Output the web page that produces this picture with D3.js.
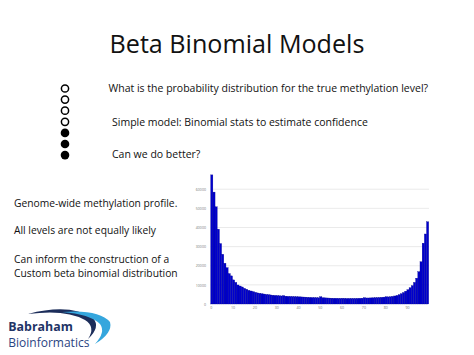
<!DOCTYPE html>
<html>
<head>
<meta charset="utf-8">
<script src="https://cdn.jsdelivr.net/npm/d3@7"></script>
<style>
  body { margin: 0; background: #fff; }
  svg { display: block; }
  text { font-family: "Open Sans", "Noto Sans", sans-serif; }
</style>
</head>
<body>
<div id="slide"></div>
<script>
var width = 474,
    height = 355;

// methylation % bins 0..99, counts per bin
var bins = d3.range(0, 100);
var counts = [
  67500, 58500, 50800, 39100, 31600, 26000, 21300, 19000, 15900, 14700,
  12600, 11300, 9950, 9400, 8900, 8200, 7700, 7150, 6800, 6450,
  6100, 5800, 5600, 5400, 5200, 5000, 4900, 4750, 4600, 4500,
  4400, 4300, 4200, 4400, 4100, 4000, 3950, 3900, 3850, 3800,
  3750, 3700, 3650, 3600, 3500, 3450, 3400, 3350, 3300, 3250,
  3800, 3300, 3200, 3150, 3100, 3050, 3000, 3000, 2950, 2950,
  3000, 2950, 2900, 2900, 2900, 2900, 2900, 2950, 3000, 3050,
  3300, 3150, 3150, 3200, 3250, 3300, 3350, 3400, 3500, 3600,
  3800, 3700, 3800, 4000, 4200, 4500, 4900, 5400, 6000, 6700,
  7500, 8500, 9600, 11300, 13500, 16900, 22100, 31800, 36600, 43000
];
var yTicks = [0, 10000, 20000, 30000, 40000, 50000, 60000];
var xTicks = [0, 10, 20, 30, 40, 50, 60, 70, 80, 90];

var title = "Beta Binomial Models";
var bulletLines = [
  "What is the probability distribution for the true methylation level?",
  "Simple model: Binomial stats to estimate confidence",
  "Can we do better?"
];
var sideLines = [
  "Genome-wide methylation profile.",
  "All levels are not equally likely",
  "Can inform the construction of a",
  "Custom beta binomial distribution"
];
var bulletFilled = [false, false, false, false, true, true, true];

var svg = d3.select("#slide")
  .append("svg")
  .attr("width", width)
  .attr("height", height);

// font size that makes a text hit a target width
function fitSize(sel, target) {
  sel.attr("font-size", 10);
  var w = sel.node().getComputedTextLength();
  return 10 * target / w;
}

// title
var t = svg.append("text")
  .attr("x", 237)
  .attr("y", 52.5)
  .attr("text-anchor", "middle")
  .attr("fill", "#111")
  .text(title);
t.attr("font-size", fitSize(t, 255));

// bullets
svg.append("g").selectAll("circle")
  .data(bulletFilled)
  .enter()
  .append("circle")
  .attr("cx", 65)
  .attr("cy", function(d, i) { return 88.5 + i * 11.1; })
  .attr("r", function(d) { return d ? 4.3 : 3.6; })
  .attr("fill", function(d) { return d ? "#000" : "#fff"; })
  .attr("stroke", "#000")
  .attr("stroke-width", function(d) { return d ? 0 : 1.5; });

var bulletPos = [[108.5, 92], [112, 125.5], [112, 158]];
var bt = svg.append("g").selectAll("text")
  .data(bulletLines)
  .enter()
  .append("text")
  .attr("x", function(d, i) { return bulletPos[i][0]; })
  .attr("y", function(d, i) { return bulletPos[i][1]; })
  .attr("fill", "#111")
  .text(function(d) { return d; });
bt.attr("font-size", fitSize(d3.select(bt.nodes()[0]), 320));

var sidePos = [207, 234, 263, 276.5];
var st = svg.append("g").selectAll("text")
  .data(sideLines)
  .enter()
  .append("text")
  .attr("x", 14)
  .attr("y", function(d, i) { return sidePos[i]; })
  .attr("fill", "#111")
  .text(function(d) { return d; });
st.attr("font-size", fitSize(d3.select(st.nodes()[3]), 164));

// histogram
var x = d3.scaleBand()
  .domain(bins)
  .range([210.7, 428.7])
  .padding(0);

var y = d3.scaleLinear()
  .domain([0, 70000])
  .range([304, 170.1]);

var chart = svg.append("g");

chart.selectAll("line.grid")
  .data(yTicks.slice(1))
  .enter()
  .append("line")
  .attr("class", "grid")
  .attr("x1", 210.7)
  .attr("x2", 429)
  .attr("y1", function(d) { return y(d); })
  .attr("y2", function(d) { return y(d); })
  .attr("stroke", "#dcdcdc")
  .attr("stroke-width", 0.6);

chart.selectAll("rect")
  .data(counts)
  .enter()
  .append("rect")
  .attr("x", function(d, i) { return x(bins[i]); })
  .attr("y", function(d) { return y(d); })
  .attr("width", x.bandwidth())
  .attr("height", function(d) { return y(0) - y(d); })
  .attr("fill", "#0000cc")
  .attr("stroke", "#00008c")
  .attr("stroke-width", 0.3);

var yAxis = chart.append("g")
  .attr("transform", "translate(206,0)")
  .call(d3.axisLeft(y).tickValues(yTicks).tickFormat(d3.format("d")).tickSize(0).tickPadding(0));
yAxis.select(".domain").remove();
yAxis.selectAll("text")
  .attr("font-size", 3.6)
  .attr("fill", "#777");

var xAxis = chart.append("g")
  .attr("transform", "translate(0,304.5)")
  .call(d3.axisBottom(x).tickValues(xTicks).tickSize(0).tickPadding(2));
xAxis.select(".domain").remove();
xAxis.selectAll(".tick").attr("transform", function(d) {
  return "translate(" + (x(d) + 0.6) + ",0)";
});
xAxis.selectAll("text")
  .attr("font-size", 3.6)
  .attr("fill", "#777");

// logo
var logo = svg.append("g");
logo.append("path")
  .attr("d", "M28,314 Q70,303 93,318 Q101,327 88,339 Q96,327 85,320 Q66,309 28,314 Z")
  .attr("fill", "#1c2d5a");
logo.append("path")
  .attr("d", "M62,312 Q99,309 110,322 Q113,333 95,344 Q106,332 100,324 Q90,314 62,312 Z")
  .attr("fill", "#35a6dd");
logo.append("text")
  .attr("x", 8.3)
  .attr("y", 331)
  .attr("fill", "#1f3466")
  .attr("font-family", "Liberation Sans, Arial, sans-serif")
  .attr("font-weight", 700)
  .attr("font-size", 12.4)
  .text("Babraham");
logo.append("text")
  .attr("x", 8.3)
  .attr("y", 346.8)
  .attr("fill", "#2a4482")
  .attr("font-family", "Liberation Sans, Arial, sans-serif")
  .attr("font-size", 12)
  .text("Bioinformatics");
</script>
</body>
</html>
